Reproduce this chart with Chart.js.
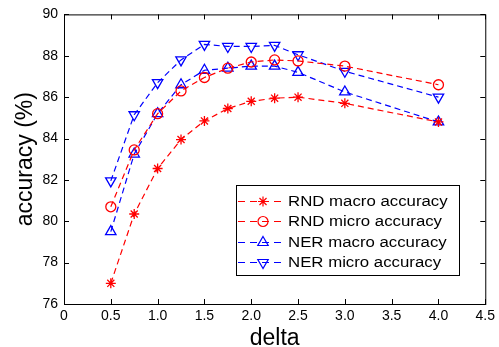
<!DOCTYPE html>
<html>
<head>
<meta charset="utf-8">
<script src="https://cdn.jsdelivr.net/npm/chart.js@4"></script>
<style>
  html, body { margin: 0; padding: 0; background: #fff; }
  #wrap { width: 499px; height: 347px; }
</style>
</head>
<body>
<div id="wrap"><canvas id="accChart"></canvas></div>
<script>
// data
let deltaValues = [0.5, 0.75, 1, 1.25, 1.5, 1.75, 2, 2.25, 2.5, 3, 4];
let rndMacro = [77.0, 80.35, 82.55, 83.95, 84.85, 85.45, 85.8, 85.95, 86.0, 85.7, 84.8];
let rndMicro = [80.7, 83.45, 85.2, 86.3, 86.95, 87.4, 87.7, 87.8, 87.75, 87.5, 86.6];
let nerMacro = [79.5, 83.25, 85.2, 86.6, 87.3, 87.4, 87.5, 87.5, 87.2, 86.25, 84.8];
let nerMicro = [81.95, 85.15, 86.7, 87.8, 88.55, 88.45, 88.45, 88.5, 88.05, 87.25, 86.0];
let seriesLabels = [
  "RND macro accuracy",
  "RND micro accuracy",
  "NER macro accuracy",
  "NER micro accuracy",
];
let xTicks = [0, 0.5, 1, 1.5, 2, 2.5, 3, 3.5, 4, 4.5];
let yTicks = [76, 78, 80, 82, 84, 86, 88, 90];

const red = "#ff0000";
const blue = "#0000ff";
const fontFamily = "'Liberation Sans', Arial, sans-serif";

const toPoints = (vals) => vals.map((v, i) => ({ x: deltaValues[i], y: v }));

const makeSet = (label, vals, color, style, rot) => ({
  label: label,
  data: toPoints(vals),
  borderColor: color,
  backgroundColor: "rgba(0,0,0,0)",
  borderWidth: 1.2,
  borderDash: [6, 4],
  pointStyle: style,
  pointRotation: rot,
  pointRadius: style === "star" ? 5 : style === "circle" ? 5 : 6,
  pointBorderWidth: 1.3,
  pointBorderColor: color,
  pointBackgroundColor: "rgba(0,0,0,0)",
  tension: 0,
});

// box, inward ticks and the legend in MATLAB style
const matlabFrame = {
  id: "matlabFrame",
  afterDatasetsDraw(chart) {
    const { ctx, chartArea: a, scales } = chart;
    ctx.save();
    ctx.strokeStyle = "#000";
    ctx.lineWidth = 1;
    ctx.strokeRect(a.left + 0.5, a.top + 0.5, a.right - a.left, a.bottom - a.top);
    ctx.beginPath();
    const t = 5;
    xTicks.forEach((v) => {
      const px = Math.round(scales.x.getPixelForValue(v)) + 0.5;
      ctx.moveTo(px, a.bottom);
      ctx.lineTo(px, a.bottom - t);
      ctx.moveTo(px, a.top);
      ctx.lineTo(px, a.top + t);
    });
    yTicks.forEach((v) => {
      const py = Math.round(scales.y.getPixelForValue(v)) + 0.5;
      ctx.moveTo(a.left, py);
      ctx.lineTo(a.left + t, py);
      ctx.moveTo(a.right, py);
      ctx.lineTo(a.right - t, py);
    });
    ctx.stroke();

    // legend box
    const lx = 236, ly = 185, lw = 223, lh = 90;
    ctx.fillStyle = "#fff";
    ctx.fillRect(lx, ly, lw, lh);
    ctx.strokeRect(lx + 0.5, ly + 0.5, lw, lh);
    ctx.font = "14px " + fontFamily;
    ctx.textBaseline = "middle";
    chart.data.datasets.forEach((ds, i) => {
      const cy = Math.round(ly + 16 + i * 20.3);
      ctx.strokeStyle = ds.borderColor;
      ctx.lineWidth = 1.2;
      ctx.setLineDash([7, 5]);
      ctx.beginPath();
      ctx.moveTo(lx + 2, cy + 0.5);
      ctx.lineTo(lx + 48, cy + 0.5);
      ctx.stroke();
      ctx.setLineDash([]);
      ctx.fillStyle = "rgba(0,0,0,0)";
      Chart.helpers.drawPoint(ctx, {
        pointStyle: ds.pointStyle,
        rotation: ds.pointRotation,
        radius: ds.pointRadius,
        borderWidth: 1.3,
      }, lx + 27, cy + 0.5);
      // MATLAB stretches legend text a little wider
      ctx.fillStyle = "#000";
      ctx.save();
      ctx.translate(lx + 52, cy + 1);
      ctx.scale(1.2, 1);
      ctx.fillText(ds.label, 0, 0);
      ctx.restore();
    });
    ctx.restore();
  },
};

const ctx = document.getElementById("accChart");
new Chart(ctx, {
  type: "line",
  data: {
    datasets: [
      makeSet(seriesLabels[0], rndMacro, red, "star", 0),
      makeSet(seriesLabels[1], rndMicro, red, "circle", 0),
      makeSet(seriesLabels[2], nerMacro, blue, "triangle", 0),
      makeSet(seriesLabels[3], nerMicro, blue, "triangle", 180),
    ],
  },
  options: {
    responsive: true,
    maintainAspectRatio: false,
    animation: false,
    layout: { padding: { top: 14, right: 12, left: 0, bottom: 0 } },
    scales: {
      x: {
        type: "linear",
        min: 0,
        max: 4.5,
        afterBuildTicks: (scale) => {
          scale.ticks = xTicks.map((v) => ({ value: v }));
        },
        afterFit: (scale) => {
          scale.height = 43;
        },
        grid: { display: false, drawTicks: false },
        border: { display: false },
        ticks: {
          padding: 4,
          color: "#000",
          font: { family: fontFamily, size: 14 },
          maxRotation: 0,
          autoSkip: false,
        },
        title: {
          display: true,
          text: "delta",
          color: "#000",
          padding: { top: 0, bottom: 0 },
          font: { family: fontFamily, size: 23, lineHeight: 0.7 },
        },
      },
      y: {
        min: 76,
        max: 90,
        afterBuildTicks: (scale) => {
          scale.ticks = yTicks.map((v) => ({ value: v }));
        },
        afterFit: (scale) => {
          scale.width = 64;
        },
        grid: { display: false, drawTicks: false },
        border: { display: false },
        ticks: {
          padding: 6,
          color: "#000",
          font: { family: fontFamily, size: 14 },
        },
        title: {
          display: true,
          text: "accuracy (%)",
          color: "#000",
          padding: { top: 12, bottom: 0 },
          font: { family: fontFamily, size: 23 },
        },
      },
    },
    plugins: {
      legend: { display: false },
      tooltip: { enabled: false },
    },
  },
  plugins: [matlabFrame],
});
</script>
</body>
</html>
